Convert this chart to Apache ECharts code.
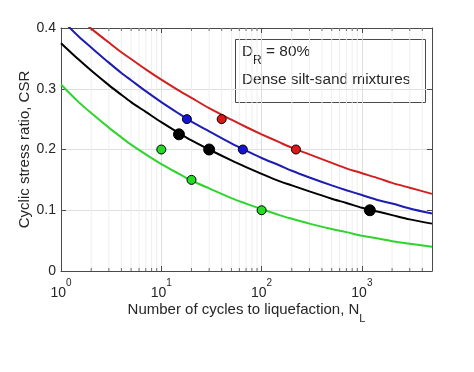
<!DOCTYPE html>
<html>
<head>
<meta charset="utf-8">
<script src="https://cdn.jsdelivr.net/npm/echarts@6/dist/echarts.min.js"></script>
<style>
html,body{margin:0;padding:0;background:#fff;}
#chart{width:474px;height:372px;}
</style>
</head>
<body>
<div id="chart"></div>
<script>
// ---- data ----
var cycles   = [1, 1.5, 2, 3, 4, 5, 7, 10, 15, 20, 30, 50, 70, 100, 150, 200, 300, 500, 700, 1000, 1500, 2000, 3000, 5000];
var csrRed   = [0.441, 0.416, 0.399, 0.376, 0.360, 0.349, 0.332, 0.315, 0.297, 0.285, 0.268, 0.249, 0.237, 0.225, 0.212, 0.203, 0.192, 0.178, 0.169, 0.161, 0.152, 0.145, 0.137, 0.127];
var csrBlue  = [0.415, 0.386, 0.368, 0.343, 0.326, 0.314, 0.296, 0.278, 0.259, 0.246, 0.230, 0.210, 0.198, 0.186, 0.174, 0.165, 0.154, 0.141, 0.133, 0.125, 0.116, 0.111, 0.103, 0.0945];
var csrBlack = [0.375, 0.348, 0.330, 0.306, 0.290, 0.278, 0.262, 0.245, 0.227, 0.215, 0.200, 0.182, 0.171, 0.160, 0.148, 0.141, 0.131, 0.119, 0.112, 0.104, 0.097, 0.092, 0.085, 0.078];
var csrGreen = [0.307, 0.278, 0.260, 0.236, 0.220, 0.208, 0.192, 0.176, 0.160, 0.149, 0.136, 0.120, 0.111, 0.102, 0.092, 0.086, 0.078, 0.069, 0.064, 0.058, 0.053, 0.049, 0.045, 0.040];

var redPtsN   = [40, 220];       var redPtsCSR   = [0.25, 0.20];
var bluePtsN  = [18, 65];        var bluePtsCSR  = [0.25, 0.20];
var blackPtsN = [15, 30, 1200];  var blackPtsCSR = [0.225, 0.20, 0.10];
var greenPtsN = [10, 20, 100];   var greenPtsCSR = [0.20, 0.15, 0.10];

var minorX = [2,3,4,5,6,7,8,9,20,30,40,50,60,70,80,90,200,300,400,500,600,700,800,900,2000,3000,4000];
var yTicks = [0, 0.1, 0.2, 0.3, 0.4];

var xTitle = 'Number of cycles to liquefaction, N';
var xTitleSub = 'L';
var yTitle = 'Cyclic stress ratio, CSR';
var boxLine1 = ['D', 'R', ' = 80%'];
var boxLine2 = 'Dense silt-sand mixtures';

// ---- styling ----
var FONT = '"Liberation Sans", Arial, Helvetica, sans-serif';
var TXT = '#262626';
var AX = '#4a4a4a';
var C_RED = '#d21f1f', C_BLUE = '#1d1db4', C_BLACK = '#000000', C_GREEN = '#2fd42f';

function zip(xs, ys){ return xs.map(function(x,i){ return [x, ys[i]]; }); }

var chart = echarts.init(document.getElementById('chart'), null, {renderer:'canvas'});

function lineSeries(name, ys, color){
  return {name:name, type:'line', xAxisIndex:0, yAxisIndex:0, data: zip(cycles, ys),
    smooth:0.3, showSymbol:false, symbol:'none', clip:true, silent:true, z:3,
    lineStyle:{color:color, width:2}};
}
function ptSeries(name, xs, ys, color, size){
  return {name:name, type:'scatter', xAxisIndex:0, yAxisIndex:0, data: zip(xs, ys),
    symbol:'circle', symbolSize:size, silent:true, z:5, clip:false,
    itemStyle:{color:color, borderColor:'#000', borderWidth:1, opacity:1}};
}

var minorGridData = [];
minorX.forEach(function(v){
  minorGridData.push([v, yTicks[0]]);
  minorGridData.push([v, yTicks[yTicks.length-1]]);
  minorGridData.push([v, null]);
});

var option = {
  animation:false,
  backgroundColor:'#fff',
  textStyle:{fontFamily:FONT},
  grid:{left:61, right:42, top:28, bottom:101, containLabel:false, outerBoundsMode:'none'},
  xAxis:[{
    type:'log', logBase:10, min:1, max:5000, position:'bottom',
    axisLine:{show:true, onZero:false, lineStyle:{color:AX, width:1}},
    axisTick:{show:true, inside:true, length:5, lineStyle:{color:AX}},
    splitLine:{show:true, lineStyle:{color:'#dedede', width:1}},
    axisLabel:{show:true, margin:7, showMaxLabel:false,
      formatter:function(v){ var e=Math.round(Math.log10(v)); if (Math.abs(Math.pow(10,e)-v)>1e-6) return ''; return '{b|10}{s|'+e+'}'; },
      rich:{
        b:{fontSize:14, fontFamily:FONT, color:TXT, lineHeight:22, verticalAlign:'bottom'},
        s:{fontSize:10, fontFamily:FONT, color:TXT, verticalAlign:'top'}
      }},
    name:'{n|'+xTitle+'}{l|'+xTitleSub+'}', nameLocation:'middle', nameGap:31, nameMoveOverlap:false,
    nameTextStyle:{rich:{
      n:{fontSize:15, fontFamily:FONT, color:TXT, lineHeight:22, verticalAlign:'top'},
      l:{fontSize:11, fontFamily:FONT, color:TXT, verticalAlign:'bottom'}
    }}
  },{
    type:'log', logBase:10, min:1, max:5000, position:'top',
    axisLine:{show:true, onZero:false, lineStyle:{color:AX, width:1}},
    axisTick:{show:true, inside:true, length:5, lineStyle:{color:AX}},
    splitLine:{show:false}, axisLabel:{show:false}
  }],
  yAxis:[{
    type:'value', min:0, max:0.4, interval:0.1, position:'left',
    axisLine:{show:true, onZero:false, lineStyle:{color:AX, width:1}},
    axisTick:{show:true, inside:true, length:5, lineStyle:{color:AX}},
    splitLine:{show:true, lineStyle:{color:'#dedede', width:1}},
    axisLabel:{show:true, margin:5, fontSize:14, fontFamily:FONT, color:TXT,
      formatter:function(v){ return String(Math.round(v*10)/10); }},
    name:yTitle, nameLocation:'middle', nameGap:29, nameMoveOverlap:false,
    nameTextStyle:{fontSize:15, fontFamily:FONT, color:TXT}
  },{
    type:'value', min:0, max:0.4, interval:0.1, position:'right',
    axisLine:{show:true, onZero:false, lineStyle:{color:AX, width:1}},
    axisTick:{show:true, inside:true, length:5, lineStyle:{color:AX}},
    splitLine:{show:false}, axisLabel:{show:false}
  }],
  series:[
    {name:'minorGrid', type:'line', xAxisIndex:0, yAxisIndex:0, data:minorGridData, silent:true, z:1,
      showSymbol:false, symbol:'none', connectNulls:false, clip:true,
      lineStyle:{color:'#eeeeee', width:1}},
    {name:'minorTickBottom', type:'scatter', xAxisIndex:0, yAxisIndex:0, silent:true, z:6, clip:false,
      data: minorX.map(function(v){ return [v, yTicks[0]]; }),
      symbol:'rect', symbolSize:[1,3], symbolOffset:[0,-1.5], itemStyle:{color:AX}},
    {name:'minorTickTop', type:'scatter', xAxisIndex:0, yAxisIndex:0, silent:true, z:6, clip:false,
      data: minorX.map(function(v){ return [v, yTicks[yTicks.length-1]]; }),
      symbol:'rect', symbolSize:[1,3], symbolOffset:[0,1.5], itemStyle:{color:AX}},
    lineSeries('red', csrRed, C_RED),
    lineSeries('blue', csrBlue, C_BLUE),
    lineSeries('black', csrBlack, C_BLACK),
    lineSeries('green', csrGreen, C_GREEN),
    ptSeries('redPts', redPtsN, redPtsCSR, '#e01616', 9),
    ptSeries('bluePts', bluePtsN, bluePtsCSR, '#1414d8', 9),
    ptSeries('blackPts', blackPtsN, blackPtsCSR, '#000', 11),
    ptSeries('greenPts', greenPtsN, greenPtsCSR, '#22dd22', 9)
  ],
  graphic:[{
    type:'group', x:235, y:39, z:20,
    children:[
      {type:'rect', shape:{x:0.5, y:0.5, width:190, height:63},
        style:{fill:'#fff', stroke:AX, lineWidth:1}},
      {type:'text', x:7, y:16.5, style:{
        text:'{m|'+boxLine1[0]+'}{s|'+boxLine1[1]+'}{m|'+boxLine1[2]+'}',
        rich:{
          m:{fontSize:15.4, fontFamily:FONT, fill:TXT, lineHeight:23, verticalAlign:'top'},
          s:{fontSize:12, fontFamily:FONT, fill:TXT, verticalAlign:'bottom'}
        },
        verticalAlign:'middle', align:'left'}},
      {type:'text', x:7, y:40.5, style:{text:boxLine2, fontSize:15.4, fontFamily:FONT, fill:TXT,
        verticalAlign:'middle', align:'left'}}
    ]
  }]
};
chart.setOption(option);
</script>
</body>
</html>
